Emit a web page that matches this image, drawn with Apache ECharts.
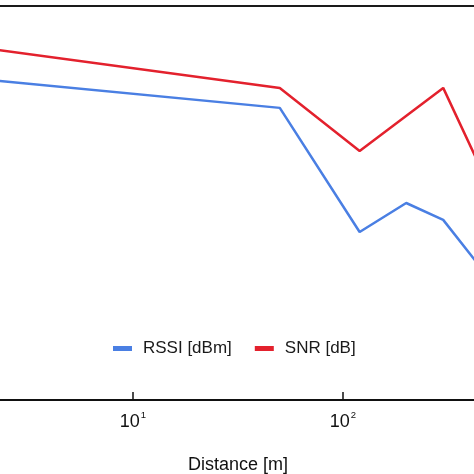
<!DOCTYPE html>
<html>
<head>
<meta charset="utf-8">
<script src="https://cdn.jsdelivr.net/npm/echarts@6/dist/echarts.min.js"></script>
<style>html,body{margin:0;padding:0;background:#fff}#c{width:474px;height:474px}</style>
</head>
<body>
<div id="c"></div>
<script>
var distances = [1, 50, 120, 200, 300, 500];
var rssi = [-4.0, -16.2, -60.3, -50.0, -56.0, -77.0];
var snrDistances = [1, 50, 120, 300, 500];
var snr = [8.0, -9.1, -31.5, -9.1, -44.5];
var seriesNames = ['RSSI [dBm]', 'SNR [dB]'];
var xLabel = 'Distance [m]';

function pairs(xs, ys) {
  var out = [];
  for (var i = 0; i < xs.length; i++) out.push([xs[i], ys[i]]);
  return out;
}

var chart = echarts.init(document.getElementById('c'), null, {renderer: 'canvas'});
chart.setOption({
  animation: false,
  backgroundColor: '#fff',
  grid: {left: -77, right: -79, top: 6, bottom: 74, show: true, borderColor: '#1a1a1a', borderWidth: 2,
         backgroundColor: 'transparent', containLabel: false, outerBoundsMode: 'none'},
  legend: {
    data: seriesNames,
    left: 108, top: 335,
    icon: 'rect', itemWidth: 19, itemHeight: 5, itemGap: 23,
    textStyle: {fontFamily: 'Liberation Sans', fontSize: 17, color: '#1a1a1a', padding: [0, 0, 0, 6]}
  },
  xAxis: {
    type: 'log', logBase: 10, min: 1, max: 1000,
    name: xLabel, nameLocation: 'middle', nameGap: 56,
    nameTextStyle: {fontFamily: 'Liberation Sans', fontSize: 18, color: '#111'},
    axisLine: {show: true, onZero: false, lineStyle: {color: '#111', width: 2}},
    axisTick: {show: true, inside: true, length: 8, lineStyle: {color: '#111', width: 1.5}},
    minorTick: {show: false},
    splitLine: {show: false},
    axisLabel: {
      margin: 10, color: '#111', fontFamily: 'Liberation Sans', fontSize: 18,
      formatter: function (v) {
        var e = Math.round(Math.log(v) / Math.LN10);
        return '{b|10}{s|' + e + '}';
      },
      rich: {
        b: {fontFamily: 'Liberation Sans', fontSize: 18, color: '#111', lineHeight: 24},
        s: {fontFamily: 'Liberation Sans', fontSize: 9.5, color: '#111', verticalAlign: 'top', lineHeight: 8, padding: [0, 0, 0, 1]}
      }
    }
  },
  yAxis: {
    type: 'value', min: -120, max: 20, show: false,
    splitLine: {show: false}
  },
  series: [
    {name: seriesNames[0], type: 'line', data: pairs(distances, rssi), symbol: 'none', clip: true,
     lineStyle: {color: '#4a7fe3', width: 2.5}, itemStyle: {color: '#4a7fe3'}},
    {name: seriesNames[1], type: 'line', data: pairs(snrDistances, snr), symbol: 'none', clip: true,
     lineStyle: {color: '#e3212d', width: 2.5}, itemStyle: {color: '#e3212d'}}
  ]
});
</script>
</body>
</html>
